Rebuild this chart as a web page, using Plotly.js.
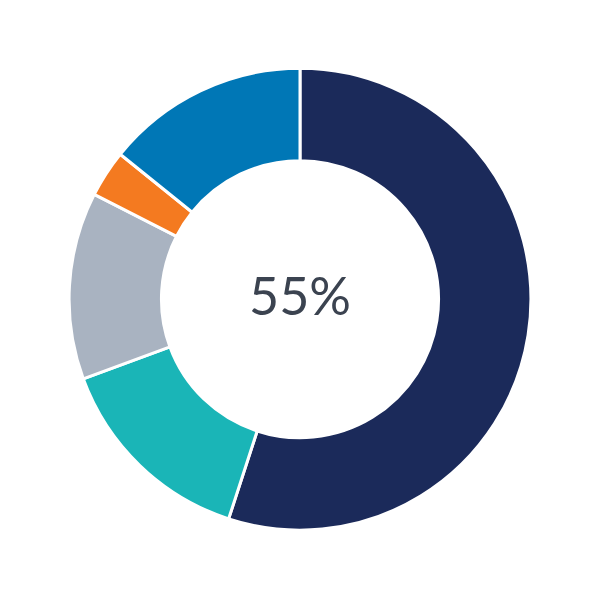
<!DOCTYPE html>
<html><head><meta charset="utf-8">
<script src="https://cdn.plot.ly/plotly-3.0.1.min.js"></script>
<style>html,body{margin:0;padding:0;background:#fff}#c{width:600px;height:599px}</style>
</head><body><div id="c"></div>
<script>
const categories = ["A", "B", "C", "D", "E"];
const values = [55, 14.4, 13.1, 3.3, 14.2];
const colors = ["#1b2a5a", "#1ab5b7", "#a9b3c1", "#f47a20", "#0077b6"];
const centerLabel = "55%";

Plotly.newPlot("c", [{
  type: "pie",
  labels: categories,
  values: values,
  hole: 0.6,
  sort: false,
  direction: "clockwise",
  rotation: 0,
  textinfo: "none",
  hoverinfo: "none",
  marker: {colors: colors, line: {color: "#ffffff", width: 3}},
  domain: {x: [0.115, 0.885], y: [0.115, 0.886]}
}], {
  width: 600, height: 599,
  margin: {l: 0, r: 0, t: 0, b: 0},
  showlegend: false,
  paper_bgcolor: "#ffffff",
  annotations: [{
    text: centerLabel, x: 0.5, y: 0.5, xref: "paper", yref: "paper", yshift: 5,
    showarrow: false, font: {family: "Lato", size: 52, color: "#3b4350"}
  }]
}, {staticPlot: true});
</script></body></html>
